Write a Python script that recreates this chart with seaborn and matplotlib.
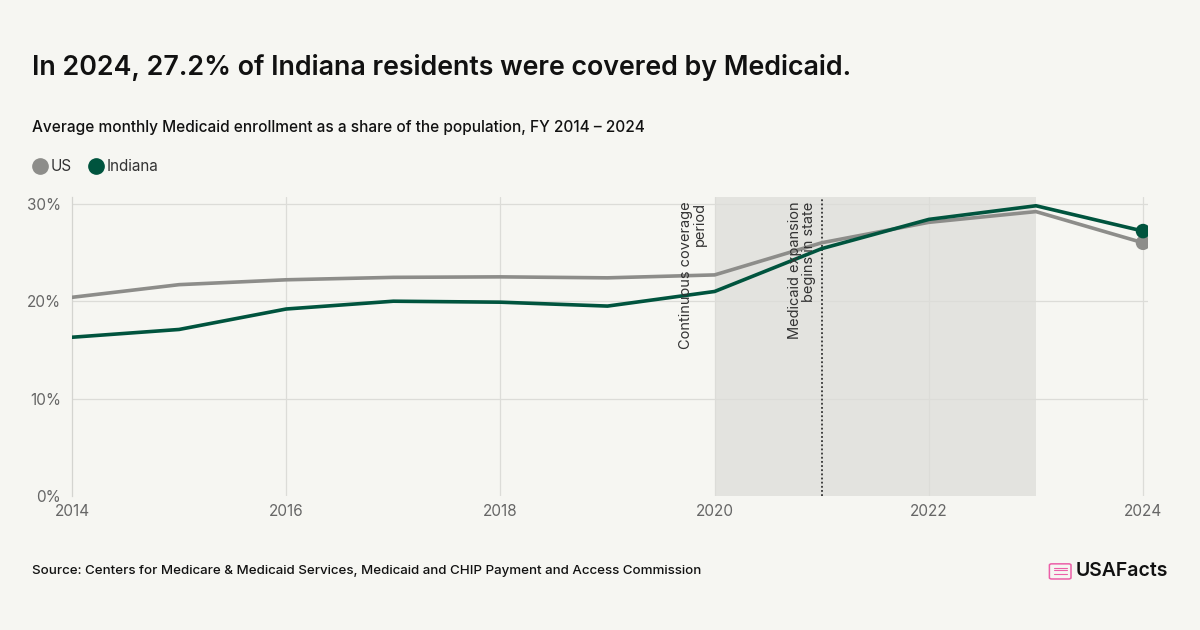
import pandas as pd
import numpy as np
import matplotlib.pyplot as plt
import matplotlib.patches as mpatches
import seaborn as sns

# data (percent of population)
years = [2014, 2015, 2016, 2017, 2018, 2019, 2020, 2021, 2022, 2023, 2024]
us_share = [20.4, 21.7, 22.2, 22.45, 22.5, 22.4, 22.7, 26.0, 28.1, 29.2, 26.0]
indiana_share = [16.3, 17.1, 19.2, 20.0, 19.9, 19.5, 21.0, 25.4, 28.4, 29.8, 27.2]
series_names = ['US', 'Indiana']
y_ticks = [0, 10, 20, 30]
x_ticks = [2014, 2016, 2018, 2020, 2022, 2024]

bg = '#f6f6f2'
colors = {'US': '#8d8d8a', 'Indiana': '#00543e'}

df = pd.DataFrame({
    'year': years * 2,
    'share': us_share + indiana_share,
    'series': ['US'] * len(years) + ['Indiana'] * len(years),
})

sns.set_theme(style='white')
plt.rcParams['font.family'] = ['Inter', 'DejaVu Sans']

fig = plt.figure(figsize=(12, 6.3), dpi=100, facecolor=bg)
ax = fig.add_axes([0.06, 0.2127, 0.897, 0.4746])
ax.set_facecolor(bg)

# continuous coverage period shading + expansion line
ax.axvspan(2020, 2023, color='#e3e3df', zorder=0, lw=0)
ax.axvline(2021, color='#333333', lw=1.3, ls=(0, (1, 1.3)), zorder=1)

for yt in y_ticks[1:]:
    ax.axhline(yt, color='#dcdcd8', lw=0.9, zorder=0.5)
for xt in x_ticks[1:]:
    ax.axvline(xt, color='#dcdcd8', lw=0.9, zorder=0.5)

sns.lineplot(data=df, x='year', y='share', hue='series', hue_order=series_names,
             palette=colors, lw=2.6, legend=False, ax=ax, zorder=3)
last = df[df['year'] == years[-1]]
sns.scatterplot(data=last, x='year', y='share', hue='series', hue_order=series_names,
                palette=colors, s=110, edgecolor='none', legend=False, ax=ax, zorder=4)

ax.set_xlim(2014, 2024.05)
ax.set_ylim(0, 30.7)
ax.set_xticks(x_ticks)
ax.set_xticklabels([str(x) for x in x_ticks])
ax.set_yticks(y_ticks)
ax.set_yticklabels([f'{y}%' for y in y_ticks])
ax.tick_params(axis='both', length=0, labelsize=11, labelcolor='#666666')
ax.tick_params(axis='y', pad=8)
ax.tick_params(axis='x', pad=6)
ax.set_xlabel('')
ax.set_ylabel('')
for side in ['top', 'right', 'bottom']:
    ax.spines[side].set_visible(False)
ax.spines['left'].set_color('#d4d4d0')
ax.spines['left'].set_linewidth(0.9)

# rotated annotations
ax.text(2019.93, 30.2, 'Continuous coverage\nperiod', rotation=90, ha='right', va='top',
        multialignment='right', fontsize=10.5, color='#333333', linespacing=1.05, zorder=5)
ax.text(2020.95, 30.2, 'Medicaid expansion\nbegins in state', rotation=90, ha='right', va='top',
        multialignment='right', fontsize=10.5, color='#333333', linespacing=1.05, zorder=5)

# titles
fig.text(0.027, 0.893, 'In 2024, 27.2% of Indiana residents were covered by Medicaid.',
         fontsize=19.3, fontweight='semibold', color='#111111', va='center')
fig.text(0.027, 0.797, 'Average monthly Medicaid enrollment as a share of the population, FY 2014 \u2013 2024',
         fontsize=11.1, fontweight='medium', color='#111111', va='center')

# legend: dot + label
legend_x = [0.0333, 0.08]
for name, lx in zip(series_names, legend_x):
    fig.add_artist(plt.Line2D([lx], [0.736], transform=fig.transFigure, marker='o', ls='',
                              markersize=11, color=colors[name]))
    fig.text(lx + 0.0085, 0.736, name, fontsize=11, color='#333333', va='center')

# source + logo
fig.text(0.027, 0.093, 'Source: Centers for Medicare & Medicaid Services, Medicaid and CHIP Payment and Access Commission',
         fontsize=9.6, fontweight='medium', color='#111111', va='center')
fig.text(0.973, 0.093, 'USAFacts', fontsize=14, fontweight='semibold', color='#111111',
         ha='right', va='center')
icon = mpatches.FancyBboxPatch((0.8765, 0.083), 0.014, 0.02, boxstyle='round,pad=0.002',
                               transform=fig.transFigure, fill=False, ec='#ec5fa8', lw=1.1)
fig.add_artist(icon)
for dy in [0.089, 0.095, 0.099]:
    fig.add_artist(plt.Line2D([0.878, 0.889], [dy, dy], transform=fig.transFigure,
                              color='#ec5fa8', lw=0.8))

fig.savefig('out.png', dpi=100, facecolor=bg)
